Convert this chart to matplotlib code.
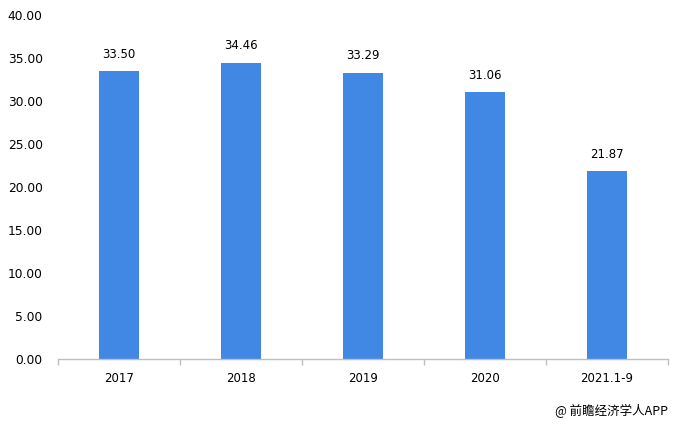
import matplotlib.pyplot as plt
import numpy as np

plt.rcParams['font.family'] = ['DejaVu Sans', 'Noto Sans CJK SC']

categories = ["2017", "2018", "2019", "2020", "2021.1-9"]
values = [33.50, 34.46, 33.29, 31.06, 21.87]
yticks = [0, 5, 10, 15, 20, 25, 30, 35, 40]

fig = plt.figure(figsize=(6.73, 4.24), dpi=100)
ax = fig.add_axes([0.0862, 0.1533, 0.9064, 0.8113])

x = np.arange(len(categories))
bars = ax.bar(x, values, width=0.32, color="#4187E4", zorder=2)

for xi, v in zip(x, values):
    ax.text(xi, v + 1.2, f"{v:.2f}", ha="center", va="bottom", fontsize=8.5, color="#000000")

ax.set_xlim(-0.5, len(categories) - 0.5)
ax.set_ylim(0, 40)
ax.set_yticks(yticks)
ax.set_yticklabels([f"{t:.2f}" for t in yticks], fontsize=8.8)
ax.set_xticks(x)
ax.set_xticklabels(categories, fontsize=8.5)
ax.tick_params(axis="y", length=0, pad=11)
ax.tick_params(axis="x", length=0, pad=9)
# category boundary ticks
ax.set_xticks(np.arange(-0.5, len(categories)), minor=True)
ax.tick_params(axis="x", which="minor", length=4, color="#BFBFBF", width=1)

for s in ["top", "right", "left"]:
    ax.spines[s].set_visible(False)
ax.spines["bottom"].set_color("#BFBFBF")
ax.spines["bottom"].set_linewidth(1)

fig.text(0.993, 0.03, "@ 前瞻经济学人APP", ha="right", va="center", fontsize=9,
         family=['Noto Sans CJK SC', 'DejaVu Sans'])

fig.savefig("out.png", dpi=100)
